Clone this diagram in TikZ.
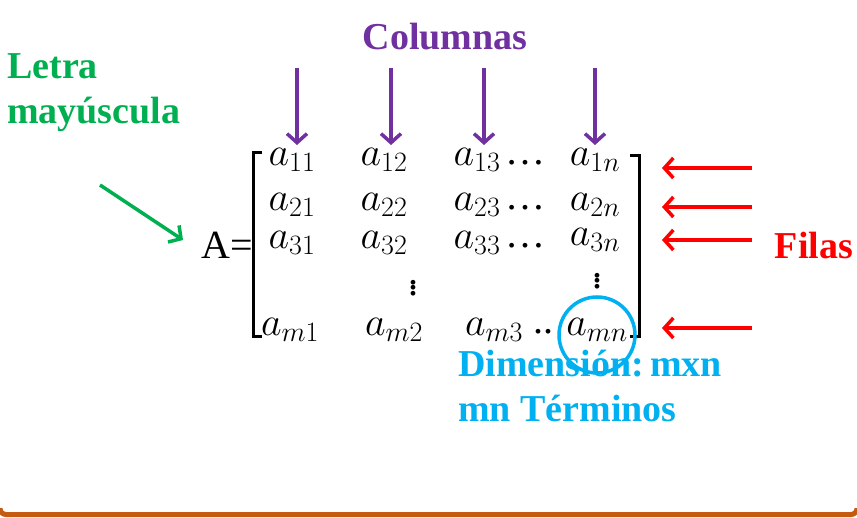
\RequirePackage{fix-cm}
\documentclass[tikz,border=0pt]{standalone}
\usepackage{amsmath}
\usepackage{fontspec}
\setmainfont{Liberation Serif}
\usetikzlibrary{arrows.meta}
\definecolor{cpurple}{RGB}{112,48,160}
\definecolor{cgreen}{RGB}{0,176,80}
\definecolor{cred}{RGB}{255,0,0}
\definecolor{cblue}{RGB}{0,176,240}
\definecolor{cbrown}{RGB}{197,90,17}
\tikzset{
 lbl/.style={font=\bfseries\fontsize{38}{45}\selectfont, inner sep=0pt},
 ent/.style={font=\fontsize{40}{44}\selectfont, inner sep=0pt},
 arr/.style={line width=3.5pt, -{Straight Barb[length=9pt,width=20pt]}},
}
\begin{document}
\begin{tikzpicture}[x=1pt,y=-1pt]
\useasboundingbox (0,0) rectangle (857,518);
\draw[cbrown, line width=5pt, rounded corners=6pt] (0,508) -- (0,514.5) -- (857,514.5) -- (857,508);
% labels
\node[lbl, text=cpurple] (col) at (445,37) {Columnas};
\node[lbl, text=cgreen, align=left, anchor=base west] (let) at (7,124) {Letra\\mayúscula};
\node[lbl, text=cred] (fil) at (814,246) {Filas};
\node[lbl, text=cblue, align=left, anchor=base west] (dim) at (458,422) {Dimensión:\,mxn\\mn Términos};
% matrix entries
\node[ent] (A) at (227,245) {A=};
\node[ent] (a11) at (292,160) {$a_{11}$};
\node[ent] (a12) at (384,160) {$a_{12}$};
\node[ent] (a13) at (477,160) {$a_{13}$};
\node[ent] (d1) at (525,163) {\dots};
\node[ent] (a1n) at (595,160) {$a_{1n}$};
\node[ent] (a21) at (292,205) {$a_{21}$};
\node[ent] (a22) at (384,205) {$a_{22}$};
\node[ent] (a23) at (477,205) {$a_{23}$};
\node[ent] (d2) at (525,208) {\dots};
\node[ent] (a2n) at (595,205) {$a_{2n}$};
\node[ent] (a31) at (292,243) {$a_{31}$};
\node[ent] (a32) at (384,243) {$a_{32}$};
\node[ent] (a33) at (477,243) {$a_{33}$};
\node[ent] (d3) at (525,246) {\dots};
\node[ent] (a3n) at (595,240) {$a_{3n}$};
\node[ent] (v1) at (413,285) {$\vdots$};
\node[ent] (v2) at (597,278) {$\vdots$};
\node[ent] (am1) at (290,330) {$a_{m1}$};
\node[ent] (am2) at (394,330) {$a_{m2}$};
\node[ent] (am3) at (494,330) {$a_{m3}$};
\node[ent] (d4) at (543,332) {..};
\node[ent] (amn) at (597,330) {$a_{mn}$};
\draw[line width=3pt] (262,153) -- (253,153) -- (253,337) -- (262,337);
\draw[line width=3pt] (630,156) -- (639,156) -- (639,337) -- (630,337);
\draw[cblue, line width=3.5pt] (amn.center) ++(0,5) circle (38);
% arrows
\foreach \x in {297,391,484,595} \draw[arr, cpurple] (\x,68) -- (\x,145);
\foreach \y in {168,207,240,328} \draw[arr, cred] (752,\y) -- (662,\y);
\draw[arr, cgreen] (100,185) -- (183,240);
\end{tikzpicture}
\end{document}
